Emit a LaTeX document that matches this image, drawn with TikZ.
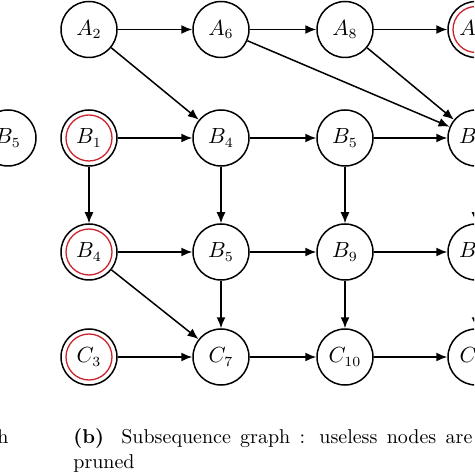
\documentclass[tikz,border=0pt]{standalone}
\usetikzlibrary{arrows.meta}
\definecolor{ringred}{RGB}{205,35,45}
\begin{document}
\begin{tikzpicture}[x=0.5pt,y=-0.5pt,
  vtx/.style={circle,draw,line width=0.75pt,minimum size=28pt,inner sep=0pt,font=\fontsize{10.5}{12}\selectfont},
  vtxr/.style={vtx,path picture={\draw[ringred,line width=0.65pt] (path picture bounding box.center) circle (11.5pt);}},
  arr/.style={-{Latex[length=5.5pt,width=4.5pt]},line width=0.75pt},
  captext/.style={inner sep=0pt,font=\fontsize{10}{12}\selectfont}]
\useasboundingbox (0,0) rectangle (474,474);
\clip (0,0) rectangle (474,474);
% row 1
\node[vtx]  (a2)  at (89,29.5)  {$A_2$};
\node[vtx]  (a6)  at (221,29.5) {$A_6$};
\node[vtx]  (a8)  at (345,29.5) {$A_8$};
\node[vtxr] (a11) at (476,29.5) {$A_{11}$};
% row 2
\node[vtx]  (b5l) at (8,138)    {$B_5$};
\node[vtxr] (b1)  at (89,138)   {$B_1$};
\node[vtx]  (b4)  at (221,138)  {$B_4$};
\node[vtx]  (b5)  at (345,138)  {$B_5$};
\node[vtx]  (b10) at (476,138)  {$B_{10}$};
% row 3
\node[vtxr] (b4r) at (89,252)   {$B_4$};
\node[vtx]  (b5r) at (221,252)  {$B_5$};
\node[vtx]  (b9)  at (345,252)  {$B_9$};
\node[vtx]  (b12) at (476,252)  {$B_{12}$};
% row 4
\node[vtxr] (c3)  at (89,357)   {$C_3$};
\node[vtx]  (c7)  at (221,357)  {$C_7$};
\node[vtx]  (c10) at (345,357)  {$C_{10}$};
\node[vtx]  (c13) at (476,357)  {$C_{13}$};
% edges
\draw[arr] (a2) -- (a6);
\draw[arr] (a6) -- (a8);
\draw[arr] (a8) -- (a11);
\draw[arr] (a2) -- (b4);
\draw[arr] (a6) -- (b10);
\draw[arr] (a8) -- (b10);
\draw[arr] (b1) -- (b4);
\draw[arr] (b4) -- (b5);
\draw[arr] (b5) -- (b10);
\draw[arr] (b1) -- (b4r);
\draw[arr] (b4) -- (b5r);
\draw[arr] (b5) -- (b9);
\draw[arr] (b10) -- (b12);
\draw[arr] (b4r) -- (b5r);
\draw[arr] (b5r) -- (b9);
\draw[arr] (b9) -- (b12);
\draw[arr] (b4r) -- (c7);
\draw[arr] (b5r) -- (c7);
\draw[arr] (b9) -- (c10);
\draw[arr] (b12) -- (c13);
\draw[arr] (c3) -- (c7);
\draw[arr] (c7) -- (c10);
\draw[arr] (c10) -- (c13);
% captions
\node[captext,anchor=base east] (capa) at (9,443.5) {h};
\node[captext,anchor=base west] (capb1) at (73,443.5) {\makebox[199.5pt][s]{\textbf{(b)}\hspace{0.4em} Subsequence graph : useless nodes are}};
\node[captext,anchor=base west] (capb2) at (73,468) {pruned};
\end{tikzpicture}
\end{document}
